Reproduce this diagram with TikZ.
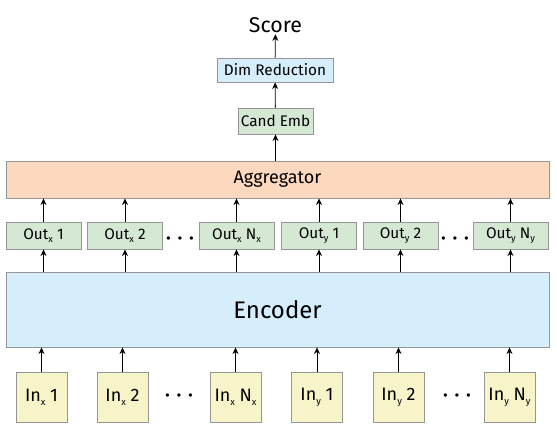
\documentclass[tikz,border=0pt]{standalone}
\usepackage{fontspec}
\setmainfont{Fira Sans}
\usepackage{tikz}
\usetikzlibrary{positioning,arrows.meta}

\definecolor{encblue}{RGB}{214,237,252}
\definecolor{outgreen}{RGB}{213,232,212}
\definecolor{aggpeach}{RGB}{251,216,190}
\definecolor{inyellow}{RGB}{246,244,200}
\definecolor{boxline}{RGB}{150,150,150}

% low, small index letter as in the drawing
\newcommand{\idx}[1]{\raisebox{-0.45ex}{\fontsize{7}{7}\selectfont #1}}
\newcommand{\threedots}{\textbullet\hspace{5pt}\textbullet\hspace{5pt}\textbullet}

\begin{document}
\begin{tikzpicture}[
  x=0.75pt, y=-0.75pt,
  box/.style={draw=boxline,line width=0.6pt,inner sep=0pt,align=center},
  outbox/.style={box,fill=outgreen,minimum width=56.25pt,minimum height=20.25pt,
                 font=\fontsize{11.5}{13}\selectfont},
  inbox/.style={box,fill=inyellow,minimum width=38.25pt,minimum height=37.5pt,
                font=\fontsize{13.5}{15}\selectfont},
  wide/.style={box,minimum width=407.25pt},
  dots/.style={inner sep=0pt,font=\fontsize{11}{12}\selectfont},
  ar/.style={-{Stealth[length=5pt,width=4.5pt]},line width=0.6pt}
]
\useasboundingbox (0,0) rectangle (557,439);

%% ---- inputs -------------------------------------------------------------
\node[inbox] (ix1) at (41.5,397)  {In\idx{x} 1};
\node[inbox] (ix2) at (122.5,397) {In\idx{x} 2};
\node[inbox] (ixn) at (235.5,397) {In\idx{x} N\idx{x}};
\node[inbox] (iy1) at (317,397)   {In\idx{y} 1};
\node[inbox] (iy2) at (398.5,397) {In\idx{y} 2};
\node[inbox] (iyn) at (509.5,397) {In\idx{y} N\idx{y}};
\node[dots] (idx) at (179,397) {\threedots};
\node[dots] (idy) at (457,397) {\threedots};

%% ---- encoder ------------------------------------------------------------
\node[wide, fill=encblue, minimum height=56.25pt, font=\fontsize{18}{20}\selectfont]
  (enc) at (277.5,309.5) {Encoder};

%% ---- outputs ------------------------------------------------------------
\node[outbox] (ox1) at (43.5,235.5)  {Out\idx{x} 1};
\node[outbox] (ox2) at (125,235.5)   {Out\idx{x} 2};
\node[outbox] (oxn) at (236.5,235.5) {Out\idx{x} N\idx{x}};
\node[outbox] (oy1) at (319,235.5)   {Out\idx{y} 1};
\node[outbox] (oy2) at (400.5,235.5) {Out\idx{y} 2};
\node[outbox] (oyn) at (510.5,235.5) {Out\idx{y} N\idx{y}};
\node[dots] (odx) at (180,240) {\threedots};
\node[dots] (ody) at (455,240) {\threedots};

%% ---- aggregation and head -----------------------------------------------
\node[wide, fill=aggpeach, minimum height=27.75pt, font=\fontsize{13.5}{15}\selectfont]
  (agg) at (277.5,179.5) {Aggregator};
\node[box, fill=outgreen, minimum width=56.25pt, minimum height=19.5pt,
      font=\fontsize{11.5}{13}\selectfont] (cand) at (275.5,121) {Cand Emb};
\node[box, fill=encblue, minimum width=87pt, minimum height=18pt,
      font=\fontsize{11.5}{13}\selectfont] (dimr) at (275,70) {Dim Reduction};
\node[inner sep=1pt, font=\fontsize{16}{18}\selectfont] (score) at (275.5,25) {Score};

%% ---- connectors ---------------------------------------------------------
\foreach \n in {ix1,ix2,ixn,iy1,iy2,iyn} \draw[ar] (\n) -- (\n |- enc.south);
\foreach \n in {ox1,ox2,oxn,oy1,oy2,oyn} {
  \draw[ar] (\n |- enc.north) -- (\n);
  \draw[ar] (\n) -- (\n |- agg.south);
}
\draw[ar] (agg.north -| cand) -- (cand);
\draw[ar] (cand) -- (dimr);
\draw[ar] (dimr) -- (score);
\end{tikzpicture}
\end{document}
